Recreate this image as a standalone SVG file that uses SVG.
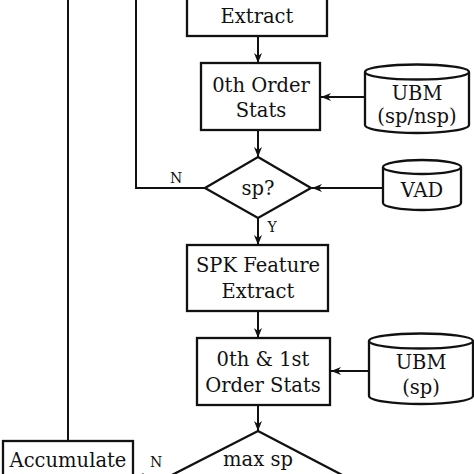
<svg xmlns="http://www.w3.org/2000/svg" width="474" height="474" viewBox="0 0 474 474">
<defs>
<marker id="ah" viewBox="0 0 10 8" refX="10" refY="4" markerWidth="10" markerHeight="8" markerUnits="userSpaceOnUse" orient="auto">
<path d="M0,0 L10,4 L0,8 L3,4 z" fill="#111"/>
</marker>
<style>
.box{fill:#fff;stroke:#111;stroke-width:2.3}
.ln{fill:none;stroke:#111;stroke-width:2}
.t{font-family:"DejaVu Serif","Liberation Serif",serif;font-size:19.5px;fill:#111;text-anchor:middle}
.s{font-family:"DejaVu Serif","Liberation Serif",serif;font-size:14px;fill:#111;text-anchor:middle}
</style>
</defs>
<rect width="474" height="474" fill="#fff"/>
<g id="connectors">
<line class="ln" x1="258" y1="36" x2="258" y2="63" marker-end="url(#ah)"/>
<line class="ln" x1="258" y1="130" x2="258" y2="157" marker-end="url(#ah)"/>
<line class="ln" x1="258" y1="218" x2="258" y2="245" marker-end="url(#ah)"/>
<line class="ln" x1="258" y1="311" x2="258" y2="338" marker-end="url(#ah)"/>
<line class="ln" x1="258" y1="405" x2="258" y2="431" marker-end="url(#ah)"/>
<line class="ln" x1="365" y1="97" x2="321" y2="97" marker-end="url(#ah)"/>
<line class="ln" x1="383" y1="188" x2="312" y2="188" marker-end="url(#ah)"/>
<line class="ln" x1="369" y1="371" x2="331" y2="371" marker-end="url(#ah)"/>
<polyline class="ln" points="205,188 136,188 136,-5"/>
<line class="ln" x1="68" y1="441" x2="68" y2="-5" stroke-width="1.8"/>
<line class="ln" x1="168" y1="477" x2="134" y2="477" marker-end="url(#ah)"/>
<text class="s" x="176" y="183">N</text>
<text class="s" x="272" y="232">Y</text>
<text class="s" x="156" y="467">N</text>
</g>
<g id="feat-extract">
<rect class="box" x="187" y="-10" width="140" height="46"/>
<text class="t" x="257" y="23">Extract</text>
</g>
<g id="zero-order">
<rect class="box" x="201" y="63" width="119" height="67"/>
<text class="t" x="261" y="92">0th Order</text>
<text class="t" x="261" y="117">Stats</text>
</g>
<g id="sp-decision">
<polygon class="box" points="258,157 311,188 258,218 205,188"/>
<text class="t" x="258" y="195">sp?</text>
</g>
<g id="spk-extract">
<rect class="box" x="187" y="245" width="141" height="66"/>
<text class="t" x="258" y="272">SPK Feature</text>
<text class="t" x="258" y="298">Extract</text>
</g>
<g id="first-order">
<rect class="box" x="197" y="338" width="133" height="67"/>
<text class="t" x="263" y="366">0th &amp; 1st</text>
<text class="t" x="263" y="392">Order Stats</text>
</g>
<g id="max-sp">
<polygon class="box" points="258,431 346,477 258,523 168,477"/>
<text class="t" x="258" y="466">max sp</text>
</g>
<g id="accumulate">
<rect class="box" x="3" y="441" width="130" height="50"/>
<text class="t" x="68" y="467">Accumulate</text>
</g>
<g id="ubm-spnsp">
<path class="box" d="M365,72 L365,125 A52,8 0 0 0 469,125 L469,72"/>
<ellipse class="box" cx="417" cy="72" rx="52" ry="7.5"/>
<text class="t" x="417" y="100">UBM</text>
<text class="t" x="417" y="123">(sp/nsp)</text>
</g>
<g id="vad">
<path class="box" d="M383,167 L383,203 A39,7 0 0 0 461,203 L461,167"/>
<ellipse class="box" cx="422" cy="167" rx="39" ry="7"/>
<text class="t" x="422" y="197">VAD</text>
</g>
<g id="ubm-sp">
<path class="box" d="M369,341 L369,396 A52,8 0 0 0 473,396 L473,341"/>
<ellipse class="box" cx="421" cy="341" rx="52" ry="7.5"/>
<text class="t" x="421" y="369">UBM</text>
<text class="t" x="421" y="394">(sp)</text>
</g>
</svg>
